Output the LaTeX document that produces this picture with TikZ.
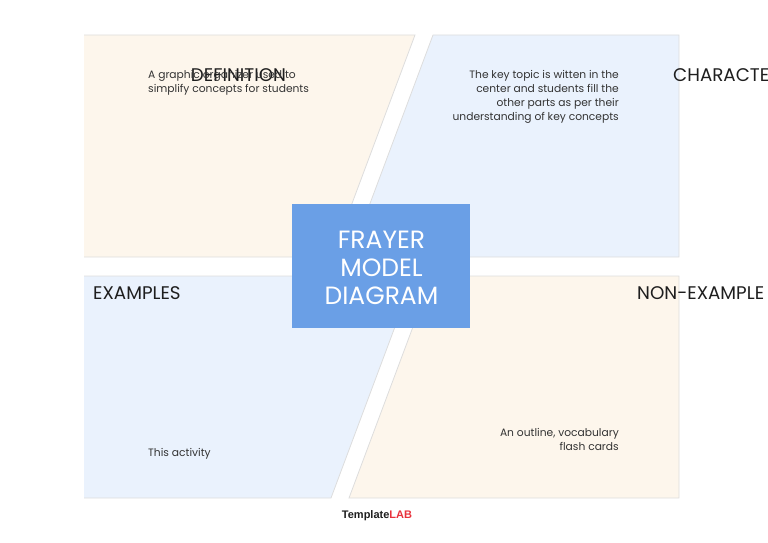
\documentclass[tikz,border=0pt]{standalone}
\usepackage{fontspec}
\setmainfont{Poppins}
\newfontfamily\logofont{Liberation Sans}
\definecolor{cream}{HTML}{FDF6EC}
\definecolor{paleblue}{HTML}{EAF2FD}
\definecolor{boxblue}{HTML}{6A9FE6}
\definecolor{edgegrey}{HTML}{DDDDDD}
\definecolor{inktext}{HTML}{333333}
\definecolor{headtext}{HTML}{1E1E1E}
\definecolor{logored}{HTML}{E8323C}
\begin{document}
\begin{tikzpicture}[x=1pt,y=-1pt,
  panel/.style={draw=edgegrey,line width=0.8pt},
  heading/.style={inner sep=0pt,text=headtext,font=\fontsize{18.3}{22}\selectfont},
  bodytext/.style={inner sep=0pt,text=inktext,font=\fontsize{10.7}{14}\selectfont},
  centerbox/.style={fill=boxblue,text=white,minimum width=178pt,minimum height=124pt,inner sep=0pt,align=center,font=\fontsize{25}{28}\selectfont}]
\useasboundingbox (0,0) rectangle (768,543);
% panels
\path[panel,fill=cream] (84,35) -- (415,35) -- (332,257) -- (84,257);
\path[panel,fill=paleblue] (433,35) -- (679,35) -- (679,257) -- (350,257) -- cycle;
\path[panel,fill=paleblue] (84,276) -- (414,276) -- (331,498) -- (84,498);
\path[panel,fill=cream] (432,276) -- (679,276) -- (679,498) -- (349,498) -- cycle;
% headings
\node[heading,anchor=center] (defh) at (238.5,75.5) {DEFINITION};
\node[heading,anchor=west] (charh) at (673,75.5) {CHARACTE};
\node[heading,anchor=west] (exh) at (93,293.5) {EXAMPLES};
\node[heading,anchor=west] (nonh) at (637,293.5) {NON-EXAMPLE};
% body texts
\node[bodytext,anchor=north west,align=left] (deft) at (148,70) {A graphic organizer used to\\simplify concepts for students};
\node[bodytext,anchor=north east,align=right] (chart) at (619,70) {The key topic is witten in the\\center and students fill the\\other parts as per their\\understanding of key concepts};
\node[bodytext,anchor=north west,align=left] (ext) at (148,448) {This activity};
\node[bodytext,anchor=north east,align=right] (nont) at (619,428) {An outline, vocabulary\\flash cards};
% center
\node[centerbox] (center) at (381,266) {};
\node[inner sep=0pt,text=white,align=center,font=\fontsize{25}{28}\selectfont] (ctext) at (381.5,268) {FRAYER\\MODEL\\DIAGRAM};
% logo
\node[inner sep=0pt,font=\logofont\bfseries\fontsize{11}{12}\selectfont] (logo) at (377,516) {\textcolor{headtext}{Template}\textcolor{logored}{LAB}};
\end{tikzpicture}
\end{document}
